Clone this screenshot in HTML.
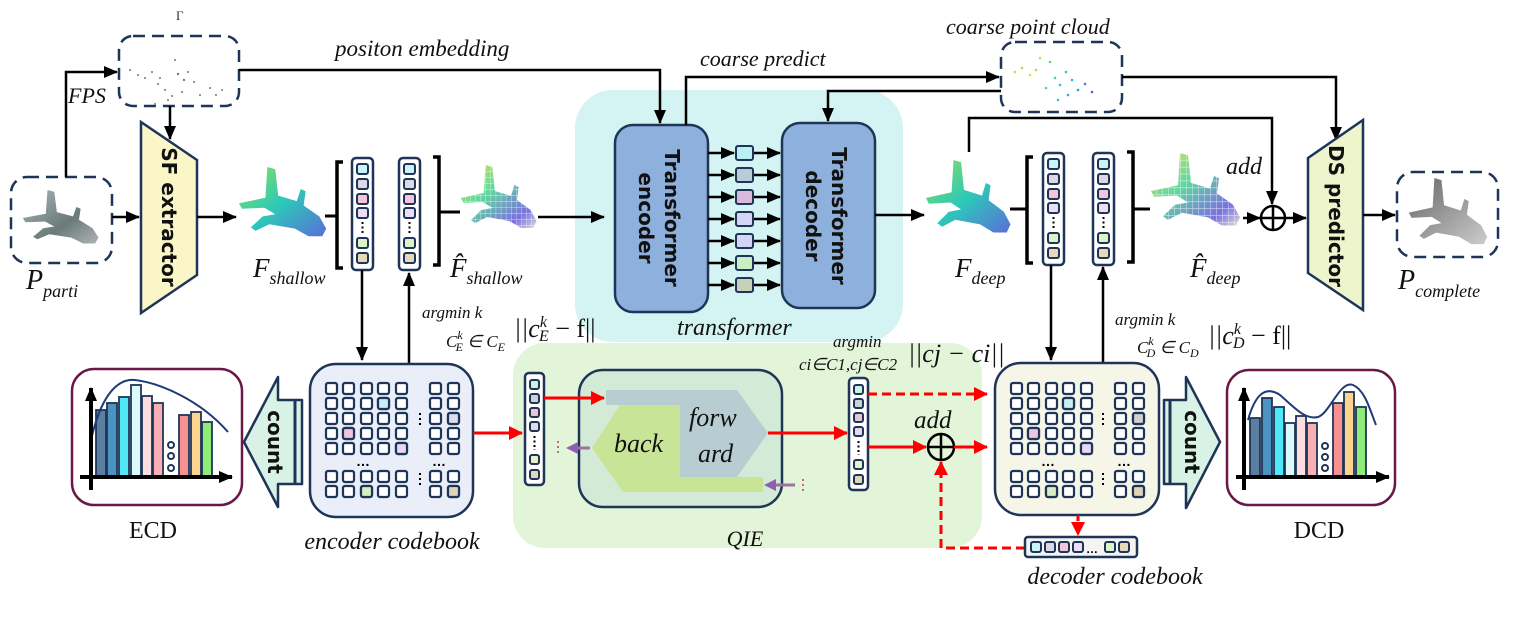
<!DOCTYPE html>
<html><head><meta charset="utf-8"><style>
html,body{margin:0;padding:0;background:#fff;}
svg{display:block;}
.m{font-family:"Liberation Serif",serif;font-style:italic;fill:#111;}
.b{font-family:"DejaVu Sans","Liberation Sans",sans-serif;font-weight:bold;fill:#111;}
</style></head><body>
<svg width="1524" height="624" viewBox="0 0 1524 624" xmlns="http://www.w3.org/2000/svg">
<defs>
<marker id="ar" markerWidth="14" markerHeight="12" refX="13" refY="6" orient="auto" markerUnits="userSpaceOnUse"><path d="M0,0 L14,6 L0,12 Z" fill="#000"/></marker>
<marker id="rr" markerWidth="14" markerHeight="14" refX="13" refY="7" orient="auto" markerUnits="userSpaceOnUse"><path d="M0,0 L14,7 L0,14 Z" fill="#f00"/></marker>
<linearGradient id="pg" x1="0" y1="0" x2="1" y2="1"><stop offset="0" stop-color="#8fe05a"/><stop offset="0.5" stop-color="#2cc9b8"/><stop offset="1" stop-color="#5a6ed8"/></linearGradient>
<linearGradient id="vg" x1="0" y1="0" x2="1" y2="1"><stop offset="0" stop-color="#e8e050"/><stop offset="0.4" stop-color="#60d8a0"/><stop offset="0.8" stop-color="#7a70e0"/><stop offset="1" stop-color="#ddd"/></linearGradient>
<linearGradient id="gg" x1="0" y1="0" x2="1" y2="1"><stop offset="0" stop-color="#a8b8b8"/><stop offset="0.6" stop-color="#6a7a78"/><stop offset="1" stop-color="#b0b4b4"/></linearGradient>
<linearGradient id="gg2" x1="0" y1="0" x2="1" y2="1"><stop offset="0" stop-color="#666"/><stop offset="1" stop-color="#ccc"/></linearGradient>
<pattern id="grid" width="6" height="6" patternUnits="userSpaceOnUse"><path d="M0,0 H6 M0,0 V6" stroke="#fff" stroke-width="1" opacity="0.7"/></pattern>
<path id="plane" d="M30,0 L38,2 L41,26 L60,31 L64,20 L69,22 L67,35 L83,45 L90,56 L86,63 L72,63 L58,56 L32,52 L18,58 L13,55 L25,45 L38,43 L27,37 L4,38 L1,33 L28,28 Z"/>
</defs>

<!-- backgrounds -->
<rect x="575" y="90" width="328" height="252" rx="38" fill="#d4f3f3"/>
<rect x="513" y="343" width="469" height="205" rx="32" fill="#e3f5d8"/>

<!-- Gamma -->
<text x="176" y="20" font-family="Liberation Serif,serif" font-size="13" fill="#333">Γ</text>

<!-- FPS box -->
<rect x="119" y="36" width="120" height="70" rx="14" fill="#fff" stroke="#1f3558" stroke-width="2.5" stroke-dasharray="12,7"/>
<g fill="#777">
<circle cx="130" cy="70" r="1"/><circle cx="145" cy="78" r="1"/><circle cx="152" cy="72" r="1"/><circle cx="158" cy="84" r="1"/><circle cx="165" cy="90" r="1"/><circle cx="175" cy="60" r="1"/><circle cx="178" cy="74" r="1.2"/><circle cx="184" cy="80" r="1.2"/><circle cx="188" cy="72" r="1"/><circle cx="194" cy="82" r="1"/><circle cx="172" cy="96" r="1"/><circle cx="182" cy="92" r="1"/><circle cx="200" cy="95" r="1"/><circle cx="210" cy="88" r="1"/><circle cx="216" cy="95" r="1"/><circle cx="222" cy="90" r="1"/><circle cx="168" cy="100" r="1"/><circle cx="155" cy="104" r="1"/><circle cx="138" cy="75" r="1"/><circle cx="160" cy="78" r="1"/>
</g>

<!-- P_parti -->
<rect x="11" y="177" width="101" height="86" rx="16" fill="#fff" stroke="#1f3558" stroke-width="2.5" stroke-dasharray="12,7"/>
<use href="#plane" transform="translate(22,190) scale(0.85)" fill="url(#gg)"/>
<text class="m" x="26" y="289" font-size="28">P<tspan font-size="18" dy="8">parti</tspan></text>

<!-- FPS arrows -->
<path d="M66,177 V72 H117" fill="none" stroke="#000" stroke-width="2.5" marker-end="url(#ar)"/>
<text class="m" x="68" y="103" font-size="22">FPS</text>
<path d="M170,106 V139" fill="none" stroke="#000" stroke-width="2.5" marker-end="url(#ar)"/>

<!-- SF extractor -->
<polygon points="141,122 197,160 197,275 141,313" fill="#fbf6c8" stroke="#1f3558" stroke-width="2.5"/>
<text class="b" font-size="20" transform="translate(162,217) rotate(90)" text-anchor="middle">SF extractor</text>
<path d="M112,217 H139" stroke="#000" stroke-width="2.5" marker-end="url(#ar)"/>
<path d="M197,217 H236" stroke="#000" stroke-width="2.5" marker-end="url(#ar)"/>

<!-- shallow plane -->
<use href="#plane" transform="translate(238,167) scale(0.98,1.1)" fill="url(#pg)"/>
<text class="m" x="253" y="277" font-size="27">F<tspan font-size="18" dy="7">shallow</tspan></text>
<path d="M325,216 H337" stroke="#000" stroke-width="3"/>
<path d="M343,162 H337 V268 H343" fill="none" stroke="#000" stroke-width="3.5"/>

<!-- columns shallow -->
<g id="col1">
<rect x="352" y="158" width="21" height="112" rx="4" fill="#fff" stroke="#1f3558" stroke-width="2.5"/>
<rect x="357" y="164" width="11" height="10" rx="2" fill="#c8f4f8" stroke="#1f3558" stroke-width="2"/>
<rect x="357" y="179" width="11" height="10" rx="2" fill="#dcd8e8" stroke="#1f3558" stroke-width="2"/>
<rect x="357" y="194" width="11" height="10" rx="2" fill="#f4c4dc" stroke="#1f3558" stroke-width="2"/>
<rect x="357" y="208" width="11" height="10" rx="2" fill="#ecdcf4" stroke="#1f3558" stroke-width="2"/>
<path d="M362.5,222 V234" stroke="#000" stroke-width="2" stroke-dasharray="2,2.5"/>
<rect x="357" y="238" width="11" height="10" rx="2" fill="#dcf4c8" stroke="#1f3558" stroke-width="2"/>
<rect x="357" y="253" width="11" height="10" rx="2" fill="#e8d8b8" stroke="#1f3558" stroke-width="2"/>
</g>
<use href="#col1" transform="translate(47,0)"/>
<path d="M433,157 H439 V265 H433" fill="none" stroke="#000" stroke-width="3.5"/>
<path d="M439,212 H460" stroke="#000" stroke-width="3"/>
<use href="#plane" transform="translate(460,165) scale(0.85,1.0)" fill="url(#vg)"/>
<use href="#plane" transform="translate(460,165) scale(0.85,1.0)" fill="url(#grid)"/>
<text class="m" x="450" y="277" font-size="27">F̂<tspan font-size="18" dy="7">shallow</tspan></text>
<path d="M538,217 H604" stroke="#000" stroke-width="2.5" marker-end="url(#ar)"/>

<!-- position embedding -->
<text class="m" x="335" y="56" font-size="23">positon embedding</text>
<path d="M239,70 H660 V123" fill="none" stroke="#000" stroke-width="2.5" marker-end="url(#ar)"/>

<!-- transformer -->
<rect x="615" y="125" width="93" height="187" rx="18" fill="#8db1dc" stroke="#1f3558" stroke-width="2.5"/>
<rect x="782" y="123" width="93" height="185" rx="18" fill="#8db1dc" stroke="#1f3558" stroke-width="2.5"/>
<text class="b" font-size="20" transform="translate(661,218) rotate(90)" text-anchor="middle"><tspan x="0" dy="-4">Transformer</tspan><tspan x="0" dy="26">encoder</tspan></text>
<text class="b" font-size="20" transform="translate(828,216) rotate(90)" text-anchor="middle"><tspan x="0" dy="-4">Transformer</tspan><tspan x="0" dy="26">decoder</tspan></text>
<g stroke="#000" stroke-width="2.5">
<path d="M708,153 H734" marker-end="url(#ar)"/><path d="M753,153 H780" marker-end="url(#ar)"/>
<path d="M708,175 H734" marker-end="url(#ar)"/><path d="M753,175 H780" marker-end="url(#ar)"/>
<path d="M708,197 H734" marker-end="url(#ar)"/><path d="M753,197 H780" marker-end="url(#ar)"/>
<path d="M708,219 H734" marker-end="url(#ar)"/><path d="M753,219 H780" marker-end="url(#ar)"/>
<path d="M708,241 H734" marker-end="url(#ar)"/><path d="M753,241 H780" marker-end="url(#ar)"/>
<path d="M708,263 H734" marker-end="url(#ar)"/><path d="M753,263 H780" marker-end="url(#ar)"/>
<path d="M708,285 H734" marker-end="url(#ar)"/><path d="M753,285 H780" marker-end="url(#ar)"/>
</g>
<g stroke="#1f3558" stroke-width="2">
<rect x="736" y="146" width="17" height="14" rx="2" fill="#b8f0f4"/>
<rect x="736" y="168" width="17" height="14" rx="2" fill="#b8ccd8"/>
<rect x="736" y="190" width="17" height="14" rx="2" fill="#d8b8dc"/>
<rect x="736" y="212" width="17" height="14" rx="2" fill="#d4d4f4"/>
<rect x="736" y="234" width="17" height="14" rx="2" fill="#d4d4f4"/>
<rect x="736" y="256" width="17" height="14" rx="2" fill="#c8f0c0"/>
<rect x="736" y="278" width="17" height="14" rx="2" fill="#c8d0b8"/>
</g>
<text class="m" x="677" y="335" font-size="24">transformer</text>

<!-- coarse -->
<text class="m" x="700" y="66" font-size="22">coarse predict</text>
<path d="M686,125 V77 H999" fill="none" stroke="#000" stroke-width="2.5" marker-end="url(#ar)"/>
<rect x="1001" y="42" width="121" height="70" rx="14" fill="#fff" stroke="#1f3558" stroke-width="2.5" stroke-dasharray="12,7"/>
<g>
<circle cx="1015" cy="72" r="1.3" fill="#c8e040"/><circle cx="1022" cy="68" r="1.3" fill="#b0e050"/><circle cx="1030" cy="75" r="1.3" fill="#e0e040"/><circle cx="1036" cy="70" r="1.3" fill="#a0e060"/><circle cx="1050" cy="62" r="1.3" fill="#60d080"/><circle cx="1055" cy="78" r="1.3" fill="#40d0b0"/><circle cx="1060" cy="85" r="1.3" fill="#30c8c0"/><circle cx="1066" cy="72" r="1.3" fill="#30c0d0"/><circle cx="1072" cy="80" r="1.3" fill="#30b8d8"/><circle cx="1078" cy="90" r="1.3" fill="#3098e0"/><circle cx="1068" cy="95" r="1.3" fill="#40a0e0"/><circle cx="1085" cy="84" r="1.3" fill="#5070e0"/><circle cx="1092" cy="92" r="1.3" fill="#6060d0"/><circle cx="1058" cy="100" r="1.3" fill="#40c0c0"/><circle cx="1046" cy="88" r="1.3" fill="#60d090"/><circle cx="1040" cy="58" r="1.3" fill="#c0e040"/></g>
<text class="m" x="946" y="34" font-size="22">coarse point cloud</text>
<path d="M1001,91 H828 V121" fill="none" stroke="#000" stroke-width="2.5" marker-end="url(#ar)"/>
<path d="M1122,77 H1336 V140" fill="none" stroke="#000" stroke-width="2.5" marker-end="url(#ar)"/>
<path d="M875,215 H924" stroke="#000" stroke-width="2.5" marker-end="url(#ar)"/>

<!-- deep -->
<use href="#plane" transform="translate(925,160) scale(0.95,1.15)" fill="url(#pg)"/>
<path d="M969,152 V118 H1272 V204" fill="none" stroke="#000" stroke-width="2.5" marker-end="url(#ar)"/>
<text class="m" x="955" y="277" font-size="27">F<tspan font-size="18" dy="7">deep</tspan></text>
<path d="M1010,209 H1027" stroke="#000" stroke-width="3"/>
<path d="M1033,157 H1027 V263 H1033" fill="none" stroke="#000" stroke-width="3.5"/>
<use href="#col1" transform="translate(691,-5)"/>
<use href="#col1" transform="translate(741,-5)"/>
<path d="M1127,152 H1133 V262 H1127" fill="none" stroke="#000" stroke-width="3.5"/>
<path d="M1133,209 H1150" stroke="#000" stroke-width="3"/>
<use href="#plane" transform="translate(1150,153) scale(1.0,1.15)" fill="url(#vg)"/>
<use href="#plane" transform="translate(1150,153) scale(1.0,1.15)" fill="url(#grid)"/>
<text class="m" x="1190" y="277" font-size="27">F̂<tspan font-size="18" dy="7">deep</tspan></text>
<text class="m" x="1226" y="174" font-size="24">add</text>
<path d="M1243,218 H1260" stroke="#000" stroke-width="2.5" marker-end="url(#ar)"/>
<circle cx="1273" cy="218" r="12" fill="#fff" stroke="#000" stroke-width="2.5"/>
<path d="M1261,218 H1285 M1273,206 V230" stroke="#000" stroke-width="2.5"/>
<path d="M1285,218 H1306" stroke="#000" stroke-width="2.5" marker-end="url(#ar)"/>

<!-- DS predictor -->
<polygon points="1308,158 1363,120 1363,310 1308,273" fill="#eef4cc" stroke="#1f3558" stroke-width="2.5"/>
<text class="b" font-size="20" transform="translate(1329,216) rotate(90)" text-anchor="middle">DS predictor</text>
<path d="M1363,215 H1395" stroke="#000" stroke-width="2.5" marker-end="url(#ar)"/>
<rect x="1397" y="172" width="101" height="85" rx="16" fill="#fff" stroke="#1f3558" stroke-width="2.5" stroke-dasharray="12,7"/>
<use href="#plane" transform="translate(1408,178) scale(0.88,1.05)" fill="url(#gg2)"/>
<text class="m" x="1398" y="289" font-size="28">P<tspan font-size="18" dy="8">complete</tspan></text>

<!-- vertical links -->
<path d="M362,270 V360" stroke="#000" stroke-width="2.5" marker-end="url(#ar)"/>
<path d="M409,364 V273" stroke="#000" stroke-width="2.5" marker-end="url(#ar)"/>
<path d="M1051,265 V360" stroke="#000" stroke-width="2.5" marker-end="url(#ar)"/>
<path d="M1103,362 V267" stroke="#000" stroke-width="2.5" marker-end="url(#ar)"/>

<!-- formulas -->
<text class="m" x="422" y="318" font-size="17">argmin k</text>
<text class="m" x="446" y="347" font-size="17">C<tspan font-size="12" dy="-8">k</tspan><tspan font-size="12" dx="-7" dy="12">E</tspan><tspan dy="-4"> ∈ C</tspan><tspan font-size="12" dy="4">E</tspan></text>
<text class="m" x="514" y="337" font-size="26">||c<tspan font-size="16" dy="-10">k</tspan><tspan font-size="16" dx="-8" dy="14">E</tspan><tspan dy="-4" font-style="normal"> − f||</tspan></text>

<text class="m" x="833" y="347" font-size="17">argmin</text>
<text class="m" x="799" y="370" font-size="17">ci∈C1,cj∈C2</text>
<text class="m" x="908" y="362" font-size="26">||cj − ci||</text>

<text class="m" x="1115" y="325" font-size="17">argmin k</text>
<text class="m" x="1137" y="353" font-size="17">C<tspan font-size="12" dy="-8">k</tspan><tspan font-size="12" dx="-7" dy="12">D</tspan><tspan dy="-4"> ∈ C</tspan><tspan font-size="12" dy="4">D</tspan></text>
<text class="m" x="1208" y="344" font-size="26">||c<tspan font-size="16" dy="-10">k</tspan><tspan font-size="16" dx="-8" dy="14">D</tspan><tspan dy="-4" font-style="normal"> − f||</tspan></text>

<!-- encoder codebook -->
<rect x="310" y="364" width="163" height="153" rx="26" fill="#e9eef8" stroke="#1f3558" stroke-width="2.5"/>
<g id="grid7" fill="#fff" stroke="#1f3558" stroke-width="2.2">
<g id="row5"><rect x="326" y="383" width="11" height="11" rx="2"/><rect x="343" y="383" width="11" height="11" rx="2"/><rect x="361" y="383" width="11" height="11" rx="2"/><rect x="378" y="383" width="11" height="11" rx="2"/><rect x="396" y="383" width="11" height="11" rx="2"/><rect x="430" y="383" width="11" height="11" rx="2"/><rect x="448" y="383" width="11" height="11" rx="2"/></g>
<use href="#row5" y="15"/><use href="#row5" y="30"/><use href="#row5" y="45"/><use href="#row5" y="60"/><use href="#row5" y="88"/><use href="#row5" y="103"/>
</g>
<g fill="#000"><text x="356" y="466" font-size="14" font-family="Liberation Sans,sans-serif" font-weight="bold">…</text><text x="432" y="466" font-size="14" font-family="Liberation Sans,sans-serif" font-weight="bold">…</text></g>
<path d="M420,413 V427 M420,473 V487" stroke="#000" stroke-width="2" stroke-dasharray="2,3"/>
<g stroke="#1f3558" stroke-width="2.2">
<rect x="378" y="398" width="11" height="11" rx="2" fill="#c8f0f4"/>
<rect x="343" y="428" width="11" height="11" rx="2" fill="#f0c4e0"/>
<rect x="396" y="443" width="11" height="11" rx="2" fill="#e8d8f4"/>
<rect x="448" y="413" width="11" height="11" rx="2" fill="#dcdcec"/>
<rect x="361" y="486" width="11" height="11" rx="2" fill="#d8f0c0"/>
<rect x="448" y="486" width="11" height="11" rx="2" fill="#e0d4b8"/>
</g>
<text class="m" x="392" y="549" font-size="24" text-anchor="middle">encoder codebook</text>

<!-- count left -->
<polygon points="244,442 278,377 278,400 302,400 302,484 278,484 278,507" fill="#d8f2e6" stroke="#1f3558" stroke-width="2.5" stroke-linejoin="round"/>
<path d="M295,400 V484" stroke="#1f3558" stroke-width="3"/>
<text class="b" font-size="20" transform="translate(268,442) rotate(90)" text-anchor="middle">count</text>

<!-- ECD -->
<rect x="72" y="369" width="170" height="136" rx="22" fill="#fff" stroke="#6a1848" stroke-width="2.5"/>
<g stroke="#1f3558" stroke-width="1.8">
<rect x="96" y="410" width="10" height="67" fill="#5a7fa0"/>
<rect x="107" y="403" width="10" height="74" fill="#4b93c0"/>
<rect x="119" y="397" width="10" height="80" fill="#50e8f4"/>
<rect x="131" y="385" width="10" height="92" fill="#dcfafa"/>
<rect x="142" y="396" width="10" height="81" fill="#fcdde0"/>
<rect x="153" y="403" width="10" height="74" fill="#f8b0b4"/>
<rect x="179" y="415" width="10" height="62" fill="#f89090"/>
<rect x="191" y="412" width="10" height="65" fill="#fcd490"/>
<rect x="202" y="422" width="10" height="55" fill="#90ec78"/>
</g>
<g fill="none" stroke="#1f3558" stroke-width="2"><circle cx="171" cy="445" r="3"/><circle cx="171" cy="456" r="3"/><circle cx="171" cy="468" r="3"/></g>
<path d="M91,440 C100,400 115,378 135,380 C160,383 200,400 228,432" fill="none" stroke="#1f3a78" stroke-width="2"/>
<path d="M91,490 V388" stroke="#000" stroke-width="4" marker-end="url(#ar)"/>
<path d="M80,477 H232" stroke="#000" stroke-width="4" marker-end="url(#ar)"/>
<text x="153" y="538" font-family="Liberation Serif,serif" font-size="24" text-anchor="middle" fill="#111">ECD</text>

<!-- QIE -->
<path d="M473,433 H522" stroke="#f00" stroke-width="3" marker-end="url(#rr)"/>
<rect x="525" y="373" width="19" height="112" rx="4" fill="#fff" stroke="#1f3558" stroke-width="2.5"/>
<g stroke="#1f3558" stroke-width="2">
<rect x="530" y="380" width="9" height="9" rx="2" fill="#c8f4e0"/>
<rect x="530" y="394" width="9" height="9" rx="2" fill="#c8d4d8"/>
<rect x="530" y="408" width="9" height="9" rx="2" fill="#e8c4d4"/>
<rect x="530" y="422" width="9" height="9" rx="2" fill="#e4d8ec"/>
<rect x="530" y="455" width="9" height="9" rx="2" fill="#e4f4c8"/>
<rect x="530" y="470" width="9" height="9" rx="2" fill="#e0d8b0"/>
</g>
<path d="M534.5,436 V450" stroke="#000" stroke-width="2" stroke-dasharray="2,2.5"/>
<rect x="579" y="370" width="203" height="137" rx="24" fill="#d3ebd6" stroke="#1f3558" stroke-width="2.5"/>
<rect x="606" y="390" width="76" height="15" fill="#b8cdd2"/>
<polygon points="680,390 737,390 768,433 737,477 680,477" fill="#b8cdd2"/>
<polygon points="620,405 680,405 680,492 623,492 592,448" fill="#c8e496"/>
<rect x="680" y="477" width="83" height="15" fill="#c8e496"/>
<text class="m" x="614" y="452" font-size="26">back</text>
<text class="m" x="689" y="426" font-size="26">forw</text>
<text class="m" x="698" y="462" font-size="26">ard</text>
<path d="M544,398 H604" stroke="#f00" stroke-width="3" marker-end="url(#rr)"/>
<path d="M590,448 H570" stroke="#a070a0" stroke-width="3"/><polygon points="566,448 578,442 578,454" fill="#9060b0"/>
<path d="M558,441 V455" stroke="#c07070" stroke-width="2" stroke-dasharray="2,3"/>
<path d="M795,485 H772" stroke="#a070a0" stroke-width="3"/><polygon points="764,485 776,479 776,491" fill="#9060b0"/>
<path d="M803,479 V493" stroke="#c07070" stroke-width="2" stroke-dasharray="2,3"/>
<text class="m" x="745" y="546" font-size="22" text-anchor="middle">QIE</text>

<path d="M768,433 H847" stroke="#f00" stroke-width="3" marker-end="url(#rr)"/>
<rect x="849" y="378" width="19" height="112" rx="4" fill="#fff" stroke="#1f3558" stroke-width="2.5"/>
<g stroke="#1f3558" stroke-width="2">
<rect x="854" y="385" width="9" height="9" rx="2" fill="#c8f4e0"/>
<rect x="854" y="399" width="9" height="9" rx="2" fill="#c8d4d8"/>
<rect x="854" y="413" width="9" height="9" rx="2" fill="#e8c4d4"/>
<rect x="854" y="427" width="9" height="9" rx="2" fill="#e4d8ec"/>
<rect x="854" y="460" width="9" height="9" rx="2" fill="#e4f4c8"/>
<rect x="854" y="475" width="9" height="9" rx="2" fill="#e0d8b0"/>
</g>
<path d="M858.5,441 V455" stroke="#000" stroke-width="2" stroke-dasharray="2,2.5"/>
<path d="M868,394 H987" stroke="#f00" stroke-width="3" stroke-dasharray="9,5" marker-end="url(#rr)"/>
<path d="M868,447 H926" stroke="#f00" stroke-width="3" marker-end="url(#rr)"/>
<text class="m" x="914" y="428" font-size="25">add</text>
<circle cx="941" cy="447" r="13" fill="none" stroke="#000" stroke-width="2.5"/>
<path d="M928,447 H954 M941,434 V460" stroke="#000" stroke-width="2.5"/>
<path d="M954,447 H987" stroke="#f00" stroke-width="3" marker-end="url(#rr)"/>
<path d="M1025,548 H941 V462" fill="none" stroke="#f00" stroke-width="3" stroke-dasharray="9,5" marker-end="url(#rr)"/>

<!-- decoder codebook -->
<rect x="995" y="363" width="164" height="152" rx="26" fill="#f6f6e8" stroke="#1f3558" stroke-width="2.5"/>
<use href="#grid7" transform="translate(685,0)"/>
<g fill="#000"><text x="1041" y="466" font-size="14" font-family="Liberation Sans,sans-serif" font-weight="bold">…</text><text x="1117" y="466" font-size="14" font-family="Liberation Sans,sans-serif" font-weight="bold">…</text></g>
<path d="M1103,413 V427 M1103,473 V487" stroke="#000" stroke-width="2" stroke-dasharray="2,3"/>
<g stroke="#1f3558" stroke-width="2.2">
<rect x="1063" y="398" width="11" height="11" rx="2" fill="#c8f0f4"/>
<rect x="1028" y="428" width="11" height="11" rx="2" fill="#f0c4e0"/>
<rect x="1081" y="443" width="11" height="11" rx="2" fill="#e8d8f4"/>
<rect x="1133" y="413" width="11" height="11" rx="2" fill="#d0d0d0"/>
<rect x="1046" y="486" width="11" height="11" rx="2" fill="#d8f0c0"/>
<rect x="1133" y="486" width="11" height="11" rx="2" fill="#e0d4b8"/>
</g>
<path d="M1078,515 V535" stroke="#f00" stroke-width="3" stroke-dasharray="6,4" marker-end="url(#rr)"/>
<rect x="1025" y="537" width="112" height="20" rx="3" fill="#f4f4f4" stroke="#1f3558" stroke-width="2.5"/>
<g stroke="#1f3558" stroke-width="2">
<rect x="1031" y="542" width="10" height="10" rx="2" fill="#c8f4f8"/>
<rect x="1045" y="542" width="10" height="10" rx="2" fill="#dcd8e8"/>
<rect x="1059" y="542" width="10" height="10" rx="2" fill="#f4c4dc"/>
<rect x="1073" y="542" width="10" height="10" rx="2" fill="#ecdcf4"/>
<rect x="1105" y="542" width="10" height="10" rx="2" fill="#dcf4c8"/>
<rect x="1119" y="542" width="10" height="10" rx="2" fill="#e8d8b8"/>
</g>
<text x="1086" y="553" font-size="12" font-family="Liberation Sans,sans-serif" font-weight="bold">…</text>
<text class="m" x="1115" y="584" font-size="24" text-anchor="middle">decoder codebook</text>

<!-- count right -->
<polygon points="1220,442 1186,377 1186,400 1164,400 1164,484 1186,484 1186,508" fill="#d8f2e6" stroke="#1f3558" stroke-width="2.5" stroke-linejoin="round"/>
<path d="M1170,400 V484" stroke="#1f3558" stroke-width="3"/>
<text class="b" font-size="20" transform="translate(1185,442) rotate(90)" text-anchor="middle">count</text>

<!-- DCD -->
<rect x="1227" y="370" width="168" height="135" rx="22" fill="#fff" stroke="#6a1848" stroke-width="2.5"/>
<g stroke="#1f3558" stroke-width="1.8">
<rect x="1250" y="418" width="10" height="59" fill="#5a7fa0"/>
<rect x="1262" y="398" width="10" height="79" fill="#4b93c0"/>
<rect x="1274" y="407" width="10" height="70" fill="#50e8f4"/>
<rect x="1285" y="423" width="10" height="54" fill="#dcfafa"/>
<rect x="1296" y="416" width="10" height="61" fill="#fcdde0"/>
<rect x="1307" y="423" width="10" height="54" fill="#f8b0b4"/>
<rect x="1333" y="403" width="10" height="74" fill="#f89090"/>
<rect x="1344" y="392" width="10" height="85" fill="#fcd490"/>
<rect x="1356" y="407" width="10" height="70" fill="#90ec78"/>
</g>
<g fill="none" stroke="#1f3558" stroke-width="2"><circle cx="1325" cy="446" r="3"/><circle cx="1325" cy="457" r="3"/><circle cx="1325" cy="468" r="3"/></g>
<path d="M1248,420 C1255,395 1265,385 1280,395 C1295,408 1305,420 1318,417 C1330,413 1340,380 1353,385 C1365,390 1370,410 1376,425" fill="none" stroke="#1f3a78" stroke-width="2"/>
<path d="M1244,490 V388" stroke="#000" stroke-width="4" marker-end="url(#ar)"/>
<path d="M1236,477 H1389" stroke="#000" stroke-width="4" marker-end="url(#ar)"/>
<text x="1319" y="538" font-family="Liberation Serif,serif" font-size="24" text-anchor="middle" fill="#111">DCD</text>
</svg>
</body></html>
